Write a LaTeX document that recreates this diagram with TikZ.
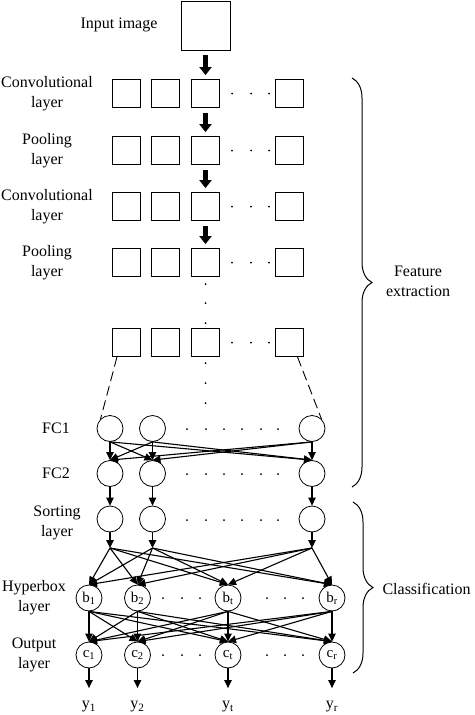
\documentclass[tikz,border=0pt]{standalone}
\usepackage{fontspec}
\setmainfont{Liberation Serif}
\usepackage{tikz}
\usetikzlibrary{positioning,arrows.meta,decorations.pathreplacing}

\tikzset{
    fmap/.style={draw, line width=0.8pt, minimum size=28pt, inner sep=0pt},
    neuron/.style={draw, circle, line width=0.8pt, minimum size=26pt, inner sep=0pt, font=\fontsize{15}{18}\selectfont},
    conn/.style={line width=1.1pt, -{Triangle[length=8pt,width=7.5pt]}},
    bigarrow/.style={line width=4.5pt, -{Triangle[length=8pt,width=12pt]}, shorten <=5pt, shorten >=4pt},
    lbl/.style={align=center, font=\fontsize{16}{20}\selectfont},
    curly/.style={decorate, decoration={brace, amplitude=20pt}, line width=1pt}
}

\begin{document}
\begin{tikzpicture}[x=1pt,y=-1pt]
    \useasboundingbox (0,0) rectangle (474,715);

    % 
    \node[fmap, minimum size=49pt] (in) at (205.5,25.5) {};
    \node[lbl] (inlbl) at (119,25) {Input image};

    % 
    \foreach \r/\y in {1/93.5, 2/150.5, 3/206.5, 4/262.5, 5/342.5} {
        \foreach \c/\x in {1/126, 2/165.5, 3/205.5, 4/289.5} {
            \node[fmap] (m\r\c) at (\x,\y) {};
        }
        \foreach \x in {232,251,269} {
            \fill (\x,\y) circle (1pt);
        }
    }

    % 
    \foreach \r/\y/\txt in {1/93.5/{Convolutional\\layer}, 2/150.5/{Pooling\\layer},
                            3/206.5/{Convolutional\\layer}, 4/262.5/{Pooling\\layer}} {
        \node[lbl] (ml\r) at (47,\y) {\txt};
    }

    % 
    \draw[bigarrow] (in) -- (m13);
    \foreach \r/\s in {1/2, 2/3, 3/4} {
        \draw[bigarrow] (m\r3) -- (m\s3);
    }

    % 
    \foreach \y in {284,303,323,363,383,403} {
        \fill (205.5,\y) circle (1pt);
    }

    % 
    \foreach \i/\x in {1/110, 2/152.5, 3/312} {
        \node[neuron] (f\i) at (\x,428.5) {};
        \node[neuron] (g\i) at (\x,473.5) {};
        \node[neuron] (s\i) at (\x,519) {};
        \coordinate (p\i) at (\x,548);
    }
    \foreach \x in {187,206,224,242,261,278} {
        \foreach \y in {429,474,520} {
            \fill (\x,\y) circle (1pt);
        }
    }
    \node[lbl] (fl1) at (56,428.5) {FC1};
    \node[lbl] (fl2) at (56,473.5) {FC2};
    \node[lbl] (sl) at (57,523) {Sorting\\layer};

    % 
    \draw[line width=0.9pt, dash pattern=on 10pt off 5pt] ([xshift=-9pt]m51.south) -- (f1.north west);
    \draw[line width=0.9pt, dash pattern=on 10pt off 5pt] ([xshift=8pt]m54.south) -- (f3.north east);

    % 
    \foreach \i in {1,2,3} {
        \foreach \j in {1,2,3} {
            \draw[conn] (f\i.south) -- (g\j.north);
        }
        \draw[conn] (g\i) -- (s\i);
        \draw[conn] (s\i) -- (p\i);
    }

    % 
    \foreach \j/\x in {1/89, 2/137.5, t/228, r/332} {
        \node[neuron] (b\j) at (\x,598) {b\textsubscript{\j}};
        \node[neuron] (c\j) at (\x,655) {c\textsubscript{\j}};
        \node[lbl] (y\j) at (\x,707) {y\textsubscript{\j}};
        \draw[conn, shorten >=10pt] (c\j) -- (y\j);
    }
    \foreach \x in {163,182,200,267,285,303} {
        \foreach \y in {598,655} {
            \fill (\x,\y) circle (1pt);
        }
    }
    \node[lbl] (hl) at (34,598) {Hyperbox\\layer};
    \node[lbl] (ol) at (34,655) {Output\\layer};

    % 
    \foreach \i in {1,2,3} {
        \foreach \j in {1,2,t,r} {
            \draw[conn] (p\i) -- (b\j.north);
        }
    }
    \foreach \i in {1,2,t,r} {
        \foreach \j in {1,2,t,r} {
            \draw[conn] (b\i.south) -- (c\j.north);
        }
    }

    % 
    \draw[curly] (352,78) -- (352,487);
    \node[lbl] (fe) at (418,281) {Feature\\extraction};
    \draw[curly] (353,502) -- (353,673);
    \node[lbl, anchor=west] (cl) at (379,589) {Classification};
\end{tikzpicture}
\end{document}
